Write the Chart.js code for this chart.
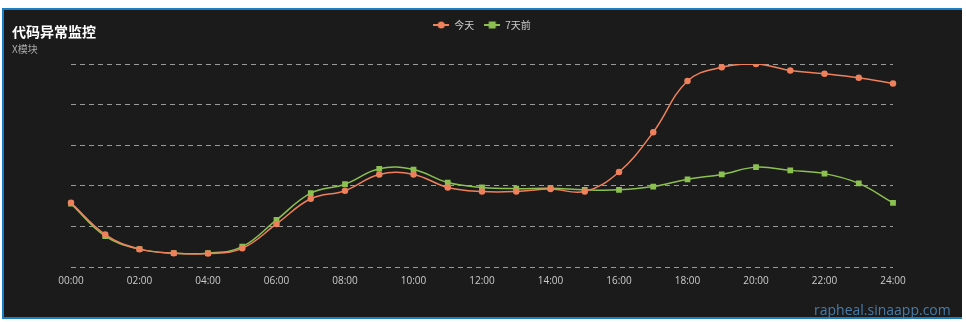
<!DOCTYPE html>
<html>
<head>
<meta charset="utf-8">
<script src="https://cdn.jsdelivr.net/npm/chart.js@4/dist/chart.umd.min.js"></script>
<style>
  html, body { margin: 0; padding: 0; background: #fff; }
  #panel {
    position: absolute; left: 2px; top: 8px; width: 958px; height: 307px;
    background: #1b1b1b;
    border-top: 2px solid #1a7fc4; border-left: 2px solid #1a7fc4; border-bottom: 2px solid #1a7fc4;
  }
  #title { position: absolute; left: 8px; top: 11px; color: #fff; font: bold 14px "Noto Sans CJK SC", sans-serif; }
  #subtitle { position: absolute; left: 8px; top: 31px; color: #aaa; font: 10px "Noto Sans CJK SC", sans-serif; }
  #mark { position: absolute; left: 814px; top: 300px; color: #4a7ba6; font: 14px "Open Sans", sans-serif; }
  canvas { position: absolute; left: 0; top: 0; }
</style>
</head>
<body>
<div id="panel">
  <canvas id="myChart" width="958" height="307"></canvas>
  <div id="title">代码异常监控</div>
  <div id="subtitle">X模块</div>
</div>
<div id="mark">rapheal.sinaapp.com</div>
<script>
const labels = [
    '00:00', '01:00', '02:00', '03:00', '04:00', '05:00', '06:00', '07:00', '08:00',
    '09:00', '10:00', '11:00', '12:00', '13:00', '14:00', '15:00', '16:00', '17:00',
    '18:00', '19:00', '20:00', '21:00', '22:00', '23:00', '24:00',
];

const today = [79, 40, 22, 17, 16.5, 23, 53, 84, 94, 114, 114, 98, 93, 93, 96, 93, 117, 166, 229, 246, 250, 242, 238, 233, 226];
const weekAgo = [78, 38, 22, 17, 17, 25, 58, 91, 102, 121, 120, 104, 98, 96.5, 97, 95, 95, 99, 108, 114, 123, 119, 115, 103, 79];

const orange = '#ef805c';
const green = '#8cc152';

function legendIcon(color, square) {
    const c = document.createElement('canvas');
    c.width = 16;
    c.height = 8;
    const g = c.getContext('2d');
    g.strokeStyle = color;
    g.lineWidth = 2;
    g.beginPath();
    g.moveTo(0, 4);
    g.lineTo(16, 4);
    g.stroke();
    g.fillStyle = color;
    if (square) {
        g.fillRect(4.5, 0.5, 7, 7);
    } else {
        g.beginPath();
        g.arc(8, 4, 3.5, 0, Math.PI * 2);
        g.fill();
    }
    return c;
}

const icons = [legendIcon(orange, false), legendIcon(green, true)];

// push the plot down below the legend
const legendGap = {
    id: 'legendGap',
    beforeInit(chart) {
        const fit = chart.legend.fit;
        chart.legend.fit = function () {
            fit.bind(chart.legend)();
            this.height += 24;
        };
    }
};

const data = {
    labels: labels,
    datasets: [{
        label: '今天',
        data: today,
        borderColor: orange,
        backgroundColor: orange,
        pointStyle: 'circle',
        pointRadius: 2.5,
        borderWidth: 1.5,
        tension: 0.4,
    }, {
        label: '7天前',
        data: weekAgo,
        borderColor: green,
        backgroundColor: green,
        pointStyle: 'rect',
        pointRadius: 3,
        borderWidth: 1.5,
        tension: 0.4,
    }]
};

const config = {
    type: 'line',
    data: data,
    plugins: [legendGap],
    options: {
        responsive: false,
        animation: false,
        layout: { padding: { left: 67, right: 69, top: 0, bottom: 30 } },
        plugins: {
            legend: {
                position: 'top',
                labels: {
                    color: '#ccc',
                    font: { size: 10, family: '"Noto Sans CJK SC", sans-serif' },
                    usePointStyle: true,
                    pointStyleWidth: 16,
                    padding: 10,
                    generateLabels: (chart) => chart.data.datasets.map((ds, i) => ({
                        text: ds.label,
                        fontColor: '#ccc',
                        pointStyle: icons[i],
                        datasetIndex: i,
                        hidden: false,
                        lineWidth: 0,
                    })),
                },
            },
            tooltip: { enabled: false },
        },
        scales: {
            x: {
                grid: { display: false },
                border: { display: false },
                ticks: {
                    color: '#ccc',
                    padding: 0,
                    font: { size: 10, family: '"Open Sans", sans-serif' },
                    maxRotation: 0,
                    autoSkip: false,
                    callback: function (v, i) { return i % 2 === 0 ? labels[i] : ''; },
                },
            },
            y: {
                min: 0,
                max: 250,
                ticks: { display: false, stepSize: 50 },
                grid: { color: '#9a9a9a', lineWidth: 1, drawTicks: false },
                border: { display: false, dash: [5, 4] },
            },
        },
    },
};

const myChart = new Chart(document.getElementById('myChart'), config);
</script>
</body>
</html>
